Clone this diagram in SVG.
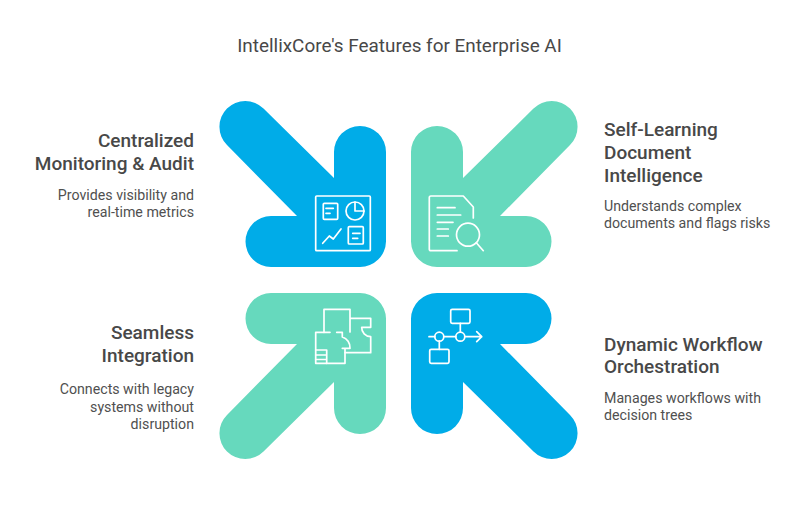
<svg xmlns="http://www.w3.org/2000/svg" width="800" height="511" viewBox="0 0 800 511">
<style>
text{font-family:Roboto,"Liberation Sans",sans-serif;fill:#484848}
.title{font-size:18.900px;text-anchor:middle}
.h{font-size:19px;font-weight:500}
.d{font-size:14.200px;fill:#505050}
.e{text-anchor:end}
.i{fill:none;stroke:#fff;stroke-width:1.700;stroke-linecap:round;stroke-linejoin:round}
.blue{fill:#00ACE8}
.green{fill:#66D9BD}
</style>
<defs>
<path id="arrow" d="M227 145A25.8 25.8 0 0 1 263.5 108.5L334 178V152A26 26 0 0 1 386 152V241.500A26 26 0 0 1 360 267H271A25.500 25.500 0 0 1 271 216H297Z"/>
</defs>
<text class="title" x="399.500" y="52">IntellixCore's Features for Enterprise AI</text>
<g id="connectors"></g>
<g id="node-monitoring">
<use href="#arrow" class="blue"/>
<g class="i">
<rect x="315.700" y="196" width="54.600" height="54.700" rx="1"/>
<rect x="323.300" y="203.300" width="14.400" height="16" rx="1"/>
<path d="M326 208.300H333.300M326 213.300H330"/>
<circle cx="355" cy="211" r="9"/>
<path d="M355 202V211H364"/>
<path d="M322.700 243.300L329.300 236L333.300 239L341 229"/>
<rect x="348.300" y="226.700" width="15" height="17.300" rx="1"/>
<path d="M352.700 233.300H360M352.700 238.300H357.700"/>
</g>
<text class="h e" x="194" y="146.800">Centralized</text>
<text class="h e" x="194" y="169.700">Monitoring &amp; Audit</text>
<text class="d e" x="194" y="199.600">Provides visibility and</text>
<text class="d e" x="194" y="216.800">real-time metrics</text>
</g>
<g id="node-document">
<use href="#arrow" class="green" transform="matrix(-1 0 0 1 797 0)"/>
<g class="i">
<path d="M473.300 218V207L463.300 196H431A1.500 1.500 0 0 0 429.300 197.500V249A1.500 1.500 0 0 0 431 250.700H457"/>
<path d="M437.300 207.700H455M437.300 215H460.700M437.300 222.300H453M437.300 229H448.300M437.300 236H448.300"/>
<circle cx="468" cy="234.700" r="11.500"/>
<path d="M476.300 242.700L483.300 250.700"/>
</g>
<text class="h" x="604" y="136">Self-Learning</text>
<text class="h" x="604" y="158.900">Document</text>
<text class="h" x="604" y="181.800">Intelligence</text>
<text class="d" x="604" y="211">Understands complex</text>
<text class="d" x="604" y="228.200">documents and flags risks</text>
</g>
<g id="node-integration">
<use href="#arrow" class="green" transform="matrix(1 0 0 -1 0 560)"/>
<g class="i">
<path d="M324 332.300V309.300H350V332M350 318.300H370.700V327.300H361.700A9 9 0 0 0 370.700 336.700V352.700H345"/>
<path d="M330 332.300H315.700V363.300H345V348.300H350A11 11 0 0 0 342.300 337V332.300H336.700M342.300 348.300H350"/>
<path d="M315.700 350H326.700M315.700 355H326.700M315.700 359.500H326.700M326.700 350V363.300"/>
</g>
<text class="h e" x="194" y="339">Seamless</text>
<text class="h e" x="194" y="361.900">Integration</text>
<text class="d e" x="194" y="394.400">Connects with legacy</text>
<text class="d e" x="194" y="411.700">systems without</text>
<text class="d e" x="194" y="429">disruption</text>
</g>
<g id="node-workflow">
<use href="#arrow" class="blue" transform="matrix(-1 0 0 -1 797 560)"/>
<g class="i">
<rect x="450.700" y="309.300" width="19.300" height="14" rx="1.500"/>
<rect x="429.700" y="349.300" width="19.300" height="14" rx="1.500"/>
<circle cx="439.300" cy="336.700" r="4.500"/>
<circle cx="460.300" cy="336.700" r="4.500"/>
<path d="M429 336.700H434.800M443.800 336.700H455.800M464.800 336.700H481.700M476.700 331.700L481.700 336.700L476.700 341.700M460.300 323.300V332.200M439.300 341.200V349.300"/>
</g>
<text class="h" x="604" y="350.500">Dynamic Workflow</text>
<text class="h" x="604" y="373.400">Orchestration</text>
<text class="d" x="604" y="403.300">Manages workflows with</text>
<text class="d" x="604" y="420.200">decision trees</text>
</g>
</svg>
